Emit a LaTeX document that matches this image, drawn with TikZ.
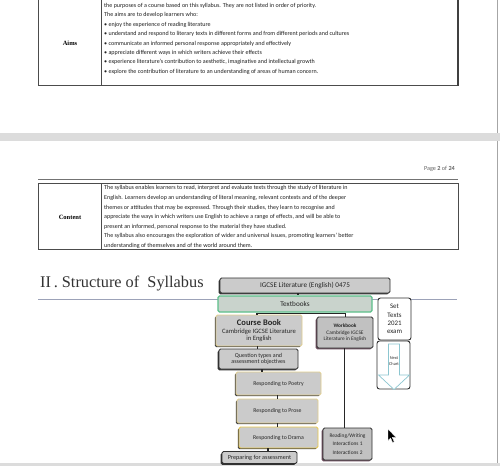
\documentclass[tikz,border=0pt]{standalone}
\usepackage{fontspec}
\setmainfont{Carlito}
\newfontfamily\serifhd{Liberation Serif}
\usetikzlibrary{shadows,calc}
\definecolor{boxgray}{HTML}{CBCBCB}
\definecolor{edgedark}{HTML}{303030}
\definecolor{tanedge}{HTML}{E2CF8E}
\definecolor{yeledge}{HTML}{EAC94A}
\definecolor{greenedge}{HTML}{5CC08A}
\definecolor{greenfill}{HTML}{C9D3CC}
\definecolor{mauve}{HTML}{6B4C5C}
\definecolor{teal}{HTML}{8CC6D0}
\definecolor{rulecol}{HTML}{9CA2B8}
\definecolor{bandgray}{HTML}{DCDCDC}
\begin{document}
\begin{tikzpicture}[x=1pt,y=-1pt,
  txt/.style={anchor=west, inner sep=0pt, font=\fontsize{6.05}{7}\selectfont, text=black!88},
  tbl/.style={draw=black!70, line width=0.8pt},
  cell/.style={inner sep=0pt, font=\serifhd\bfseries\fontsize{6.5}{7}\selectfont},
  base/.style={rounded corners=1.5pt, line width=0.9pt, align=center, inner sep=1pt, text=black!85},
  gbox/.style={base, draw=edgedark, fill=boxgray, general shadow={shadow xshift=-1.3pt, shadow yshift=-1.3pt, fill=black!80}},
  mbox/.style={base, draw=edgedark, fill=boxgray!95!black, general shadow={shadow xshift=-1.3pt, shadow yshift=-1.3pt, fill=mauve}},
  tbox/.style={base, draw=tanedge, fill=boxgray, general shadow={shadow xshift=-1.2pt, shadow yshift=-1.2pt, fill=black!75}},
  wbox/.style={base, draw=edgedark, fill=white, rounded corners=2.5pt},
  conn/.style={draw=black!85, line width=0.9pt},
  bar/.style={draw=black!85, line width=2pt}
]
\useasboundingbox (0,0) rectangle (500,466);
\fill[white] (0,0) rectangle (500,466);
% page bands
\fill[bandgray] (0,133) rectangle (500,141);
\fill[bandgray] (0,463) rectangle (500,466);
\draw[black!35, line width=0.8pt] (497,0) -- (497,133);
\draw[black!35, line width=0.8pt] (497,141) -- (497,463);
% ---------- page 1 table ----------
\draw[tbl] (38.5,0) -- (38.5,85) -- (458,85);
\draw[tbl] (101.5,0) -- (101.5,85);
\draw[draw=black!75, line width=1.3pt] (458,0) -- (458,85.5);
\node[cell] (aims) at (70,43) {Aims};
\node[txt] (a1) at (104,6) {the purposes of a course based on this syllabus. They are not listed in order of priority.};
\node[txt] (a2) at (104,15) {The aims are to develop learners who:};
\node[txt] (a3) at (104,25) {• enjoy the experience of reading literature};
\node[txt] (a4) at (104,34) {• understand and respond to literary texts in different forms and from different periods and cultures};
\node[txt] (a5) at (104,43.5) {• communicate an informed personal response appropriately and effectively};
\node[txt] (a6) at (104,53) {• appreciate different ways in which writers achieve their effects};
\node[txt] (a7) at (104,62) {• experience literature's contribution to aesthetic, imaginative and intellectual growth};
\node[txt] (a8) at (104,72) {• explore the contribution of literature to an understanding of areas of human concern.};
% ---------- page 2 ----------
\node[anchor=east, inner sep=0pt, font=\fontsize{6.2}{7}\selectfont, text=black!60] (pg) at (455,169) {Page \textbf{2} of \textbf{24}};
\draw[black!55, line width=0.7pt] (38,179) -- (458,179);
\draw[tbl] (38.5,183) rectangle (458,249);
\draw[tbl] (101.5,183) -- (101.5,249);
\node[cell] (content) at (70,217) {Content};
\node[txt] (c1) at (104,188) {The syllabus enables learners to read, interpret and evaluate texts through the study of literature in};
\node[txt] (c2) at (104,198) {English. Learners develop an understanding of literal meaning, relevant contexts and of the deeper};
\node[txt] (c3) at (104,207.5) {themes or attitudes that may be expressed. Through their studies, they learn to recognise and};
\node[txt] (c4) at (104,217) {appreciate the ways in which writers use English to achieve a range of effects, and will be able to};
\node[txt] (c5) at (104,226.5) {present an informed, personal response to the material they have studied.};
\node[txt] (c6) at (104,236) {The syllabus also encourages the exploration of wider and universal issues, promoting learners' better};
\node[txt] (c7) at (104,245.5) {understanding of themselves and of the world around them.};
% heading
\node[anchor=west, inner sep=0pt, font=\serifhd\fontsize{16.3}{17}\selectfont, text=black!80] (head) at (40,283.5) {II\,.\ Structure of\ \ Syllabus};
\draw[rulecol, line width=0.9pt] (38,299) -- (457,299);
% ---------- chart ----------
\node[gbox, minimum width=170, minimum height=15, font=\fontsize{7.2}{8}\selectfont] (igcse) at (305,285.5) {IGCSE Literature (English) 0475};
\node[base, draw=greenedge, fill=greenfill, line width=1.1pt, minimum width=154, minimum height=16, font=\fontsize{7.2}{8}\selectfont] (textbooks) at (295,304) {Textbooks};
\node[tbox, minimum width=86, minimum height=31, font=\fontsize{6.6}{7.4}\selectfont] (course) at (259,330.5) {{\fontsize{8.5}{9.5}\selectfont\bfseries Course Book}\\[1pt]Cambridge IGCSE Literature\\in English};
\node[mbox, minimum width=56, minimum height=31, font=\fontsize{5.3}{6.4}\selectfont] (workbook) at (345,332.5) {\textbf{Workbook}\\[1pt]Cambridge IGCSE\\Literature in English};
\node[wbox, minimum width=33, minimum height=42, font=\fontsize{6.9}{8.3}\selectfont] (settexts) at (394.5,319) {Set\\Texts\\2021\\exam};
\node[wbox, minimum width=33, minimum height=48] (nextchart) at (393.5,365) {};
\node[gbox, minimum width=79, minimum height=20, font=\fontsize{6}{6.8}\selectfont] (question) at (258.5,359) {Question types and\\assessment objectives};
\node[tbox, minimum width=85, minimum height=23, font=\fontsize{5.8}{6.5}\selectfont] (poetry) at (278.5,383.5) {Responding to Poetry};
\node[tbox, minimum width=81, minimum height=24, font=\fontsize{5.8}{6.5}\selectfont] (prose) at (277.5,411) {Responding to Prose};
\node[tbox, draw=yeledge, minimum width=79, minimum height=21, font=\fontsize{5.8}{6.5}\selectfont] (drama) at (278.5,437.5) {Responding to Drama};
\node[gbox, minimum width=75, minimum height=12, inner sep=0.5pt, font=\fontsize{6.2}{7}\selectfont] (preparing) at (259.5,457.5) {Preparing for assessment};
\node[mbox, minimum width=49, minimum height=32, font=\fontsize{5.4}{8.2}\selectfont] (reading) at (347.5,444) {Reading/Writing\\Interactions 1\\Interactions 2};
% next chart arrow
\draw[teal, line width=0.7pt, fill=white] (388.5,344) -- (399.5,344) -- (399.5,375) -- (409.5,375) -- (394,389.5) -- (378.5,375) -- (388.5,375) -- cycle;
\node[inner sep=0pt, align=center, font=\fontsize{4.4}{5.4}\selectfont, text=black!80] (nexttxt) at (394,361) {Next\\Chart};
% connectors
\draw[bar] (igcse.south -| 298,0) -- (textbooks.north -| 298,0);
\coordinate (tb) at (257,313.2);
\draw[bar] (textbooks.south -| tb) -- (course.north -| tb);
\draw[conn] (tb) -| (workbook.north);
\draw[conn] (course.south -| 257,0) -- (question.north -| 257,0);
\draw[bar] (question.south -| 262,0) -- (poetry.north -| 262,0);
\draw[conn, line width=0.6pt] (poetry.south -| 277,0) -- (prose.north -| 277,0);
\draw[conn, line width=0.6pt] (prose.south -| 277,0) -- (drama.north -| 277,0);
\draw[bar] (drama.south -| 268,0) -- (preparing.north -| 268,0);
\draw[conn] (workbook.south -| 344,0) -- (reading.north -| 344,0);
% mouse cursor
\filldraw[fill=black, draw=white, line width=0.3pt] (388,429) -- (388,440.5) -- (390.6,438) -- (392.6,442.5) -- (394.2,441.8) -- (392.2,437.3) -- (395.8,437.3) -- cycle;
\end{tikzpicture}
\end{document}
